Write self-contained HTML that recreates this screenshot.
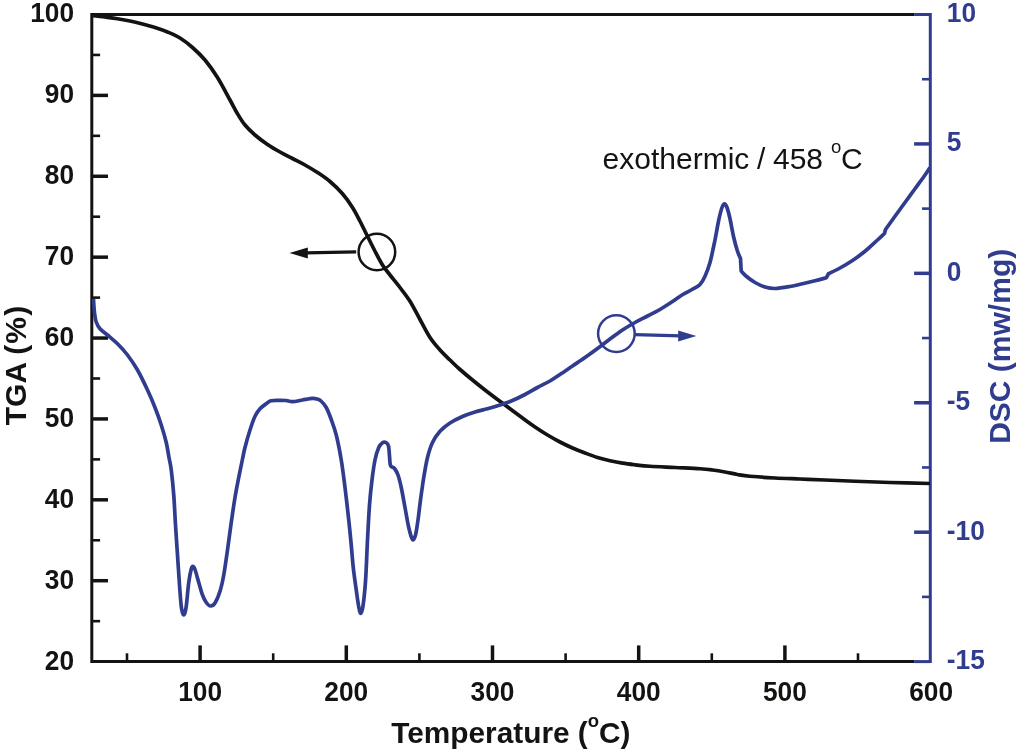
<!DOCTYPE html>
<html lang="en">
<head>
<meta charset="utf-8">
<title>TGA / DSC curves</title>
<style>
html,body{margin:0;padding:0;background:#fff;}
body{width:1020px;height:752px;overflow:hidden;font-family:"Liberation Sans",Arial,sans-serif;}
svg{display:block;filter:blur(0.45px);}
</style>
</head>
<body>
<svg width="1020" height="752" viewBox="0 0 1020 752">
<rect x="0" y="0" width="1020" height="752" fill="#ffffff"/>
<g stroke="#141311" stroke-width="3.0" fill="none" stroke-linecap="butt">
<path d="M91.8,13.0 V663.1"/>
<path d="M91.8,14.5 H914.0999999999999"/>
<path d="M91.8,661.6 H914.0999999999999"/>
</g>
<g stroke="#141311" stroke-width="3.1" fill="none">
<path d="M91.8,621.16 h8.3" stroke-width="2.6"/>
<path d="M91.8,580.71 h16.2" stroke-width="3.5"/>
<path d="M91.8,540.27 h8.3" stroke-width="2.6"/>
<path d="M91.8,499.82 h16.2" stroke-width="3.5"/>
<path d="M91.8,459.38 h8.3" stroke-width="2.6"/>
<path d="M91.8,418.94 h16.2" stroke-width="3.5"/>
<path d="M91.8,378.49 h8.3" stroke-width="2.6"/>
<path d="M91.8,338.05 h16.2" stroke-width="3.5"/>
<path d="M91.8,297.61 h8.3" stroke-width="2.6"/>
<path d="M91.8,257.16 h16.2" stroke-width="3.5"/>
<path d="M91.8,216.72 h8.3" stroke-width="2.6"/>
<path d="M91.8,176.28 h16.2" stroke-width="3.5"/>
<path d="M91.8,135.83 h8.3" stroke-width="2.6"/>
<path d="M91.8,95.39 h16.2" stroke-width="3.5"/>
<path d="M91.8,54.94 h8.3" stroke-width="2.6"/>
<path d="M127.00,661.6 v-8.3" stroke-width="2.6"/>
<path d="M200.10,661.6 v-16.2" stroke-width="3.5"/>
<path d="M273.20,661.6 v-8.3" stroke-width="2.6"/>
<path d="M346.30,661.6 v-16.2" stroke-width="3.5"/>
<path d="M419.40,661.6 v-8.3" stroke-width="2.6"/>
<path d="M492.50,661.6 v-16.2" stroke-width="3.5"/>
<path d="M565.60,661.6 v-8.3" stroke-width="2.6"/>
<path d="M638.70,661.6 v-16.2" stroke-width="3.5"/>
<path d="M711.80,661.6 v-8.3" stroke-width="2.6"/>
<path d="M784.90,661.6 v-16.2" stroke-width="3.5"/>
<path d="M858.00,661.6 v-8.3" stroke-width="2.6"/>
</g>
<g stroke="#303c8e" stroke-width="3.0" fill="none">
<path d="M930.3,13.0 V663.1"/>
</g>
<g stroke="#303c8e" stroke-width="3.1" fill="none">
<path d="M930.3,14.50 h-16.2" stroke-width="3.0"/>
<path d="M930.3,79.21 h-8.3" stroke-width="2.6"/>
<path d="M930.3,143.92 h-16.2" stroke-width="3.5"/>
<path d="M930.3,208.63 h-8.3" stroke-width="2.6"/>
<path d="M930.3,273.34 h-16.2" stroke-width="3.5"/>
<path d="M930.3,338.05 h-8.3" stroke-width="2.6"/>
<path d="M930.3,402.76 h-16.2" stroke-width="3.5"/>
<path d="M930.3,467.47 h-8.3" stroke-width="2.6"/>
<path d="M930.3,532.18 h-16.2" stroke-width="3.5"/>
<path d="M930.3,596.89 h-8.3" stroke-width="2.6"/>
<path d="M930.3,661.60 h-16.2" stroke-width="3.0"/>
</g>
<path d="M92.00,15.30 C94.17,15.58 100.75,16.43 105.00,17.00 C109.25,17.57 113.33,18.08 117.50,18.75 C121.67,19.42 125.83,20.12 130.00,21.00 C134.17,21.88 138.33,22.92 142.50,24.00 C146.67,25.08 150.83,26.17 155.00,27.50 C159.17,28.83 163.33,30.25 167.50,32.00 C171.67,33.75 175.83,35.42 180.00,38.00 C184.17,40.58 188.33,43.83 192.50,47.50 C196.67,51.17 200.83,55.00 205.00,60.00 C209.17,65.00 213.33,70.83 217.50,77.50 C221.67,84.17 226.67,93.96 230.00,100.00 C233.33,106.04 235.00,109.58 237.50,113.75 C240.00,117.92 242.08,121.46 245.00,125.00 C247.92,128.54 251.25,131.75 255.00,135.00 C258.75,138.25 263.33,141.67 267.50,144.50 C271.67,147.33 275.83,149.67 280.00,152.00 C284.17,154.33 288.33,156.33 292.50,158.50 C296.67,160.67 300.83,162.67 305.00,165.00 C309.17,167.33 313.33,169.75 317.50,172.50 C321.67,175.25 325.83,177.96 330.00,181.50 C334.17,185.04 338.75,189.42 342.50,193.75 C346.25,198.08 349.58,202.92 352.50,207.50 C355.42,212.08 357.50,216.46 360.00,221.25 C362.50,226.04 365.00,231.25 367.50,236.25 C370.00,241.25 372.50,246.46 375.00,251.25 C377.50,256.04 380.00,261.04 382.50,265.00 C385.00,268.96 387.08,271.25 390.00,275.00 C392.92,278.75 396.67,283.12 400.00,287.50 C403.33,291.88 406.67,295.92 410.00,301.25 C413.33,306.58 416.67,313.46 420.00,319.50 C423.33,325.54 426.67,332.42 430.00,337.50 C433.33,342.58 436.67,346.25 440.00,350.00 C443.33,353.75 446.67,356.75 450.00,360.00 C453.33,363.25 456.25,366.17 460.00,369.50 C463.75,372.83 468.33,376.58 472.50,380.00 C476.67,383.42 480.83,386.75 485.00,390.00 C489.17,393.25 493.33,396.38 497.50,399.50 C501.67,402.62 505.83,405.67 510.00,408.75 C514.17,411.83 518.33,414.96 522.50,418.00 C526.67,421.04 530.83,424.17 535.00,427.00 C539.17,429.83 543.33,432.50 547.50,435.00 C551.67,437.50 555.83,439.83 560.00,442.00 C564.17,444.17 568.33,446.17 572.50,448.00 C576.67,449.83 580.83,451.42 585.00,453.00 C589.17,454.58 593.33,456.21 597.50,457.50 C601.67,458.79 605.83,459.80 610.00,460.75 C614.17,461.70 618.33,462.52 622.50,463.20 C626.67,463.88 630.42,464.29 635.00,464.80 C639.58,465.31 643.33,465.80 650.00,466.25 C656.67,466.70 666.67,467.08 675.00,467.50 C683.33,467.92 693.75,468.33 700.00,468.75 C706.25,469.17 708.33,469.46 712.50,470.00 C716.67,470.54 720.83,471.25 725.00,472.00 C729.17,472.75 733.33,473.79 737.50,474.50 C741.67,475.21 743.75,475.67 750.00,476.25 C756.25,476.83 766.67,477.54 775.00,478.00 C783.33,478.46 791.67,478.67 800.00,479.00 C808.33,479.33 815.83,479.62 825.00,480.00 C834.17,480.38 844.17,480.83 855.00,481.25 C865.83,481.67 877.50,482.12 890.00,482.50 C902.50,482.88 923.33,483.33 930.00,483.50" fill="none" stroke="#141311" stroke-width="3.7" stroke-linejoin="round" stroke-linecap="butt"/>
<path d="M93.50,299.00 C93.57,300.17 93.72,303.58 93.90,306.00 C94.08,308.42 94.22,310.83 94.60,313.50 C94.98,316.17 95.30,319.46 96.20,322.00 C97.10,324.54 98.12,326.58 100.00,328.75 C101.88,330.92 104.58,332.50 107.50,335.00 C110.42,337.50 114.17,340.42 117.50,343.75 C120.83,347.08 124.17,350.62 127.50,355.00 C130.83,359.38 134.17,364.17 137.50,370.00 C140.83,375.83 144.58,383.75 147.50,390.00 C150.42,396.25 152.71,401.67 155.00,407.50 C157.29,413.33 159.38,419.17 161.25,425.00 C163.12,430.83 164.96,437.08 166.25,442.50 C167.54,447.92 168.17,452.92 169.00,457.50 C169.83,462.08 170.46,463.75 171.25,470.00 C172.04,476.25 173.04,485.83 173.75,495.00 C174.46,504.17 174.88,515.00 175.50,525.00 C176.12,535.00 176.83,545.00 177.50,555.00 C178.17,565.00 178.90,576.67 179.50,585.00 C180.10,593.33 180.63,600.50 181.10,605.00 C181.57,609.50 181.86,610.33 182.30,612.00 C182.74,613.67 183.27,615.00 183.75,615.00 C184.23,615.00 184.76,613.67 185.20,612.00 C185.64,610.33 185.81,609.92 186.40,605.00 C186.99,600.08 187.94,588.50 188.75,582.50 C189.56,576.50 190.54,571.71 191.25,569.00 C191.96,566.29 192.38,566.17 193.00,566.25 C193.62,566.33 194.04,566.79 195.00,569.50 C195.96,572.21 197.50,578.25 198.75,582.50 C200.00,586.75 201.25,591.67 202.50,595.00 C203.75,598.33 204.92,600.67 206.25,602.50 C207.58,604.33 209.04,605.92 210.50,606.00 C211.96,606.08 213.42,605.46 215.00,603.00 C216.58,600.54 218.54,595.92 220.00,591.25 C221.46,586.58 222.50,581.88 223.75,575.00 C225.00,568.12 226.25,558.75 227.50,550.00 C228.75,541.25 230.00,531.25 231.25,522.50 C232.50,513.75 233.75,505.00 235.00,497.50 C236.25,490.00 237.50,483.92 238.75,477.50 C240.00,471.08 241.46,464.00 242.50,459.00 C243.54,454.00 243.75,452.33 245.00,447.50 C246.25,442.67 248.33,435.21 250.00,430.00 C251.67,424.79 253.33,419.79 255.00,416.25 C256.67,412.71 258.12,410.83 260.00,408.75 C261.88,406.67 264.42,405.09 266.25,403.75 C268.08,402.41 268.88,401.27 271.00,400.70 C273.12,400.12 276.50,400.33 279.00,400.30 C281.50,400.27 283.75,400.27 286.00,400.50 C288.25,400.73 289.75,401.78 292.50,401.70 C295.25,401.62 299.17,400.55 302.50,400.00 C305.83,399.45 310.08,398.57 312.50,398.40 C314.92,398.23 315.54,398.52 317.00,399.00 C318.46,399.48 319.71,399.83 321.25,401.25 C322.79,402.67 324.58,404.46 326.25,407.50 C327.92,410.54 329.58,414.92 331.25,419.50 C332.92,424.08 334.58,428.25 336.25,435.00 C337.92,441.75 339.79,451.25 341.25,460.00 C342.71,468.75 343.75,477.50 345.00,487.50 C346.25,497.50 347.71,510.42 348.75,520.00 C349.79,529.58 350.50,537.08 351.25,545.00 C352.00,552.92 352.42,560.00 353.25,567.50 C354.08,575.00 355.36,583.58 356.25,590.00 C357.14,596.42 357.85,602.08 358.60,606.00 C359.35,609.92 360.02,613.50 360.75,613.50 C361.48,613.50 362.19,611.58 363.00,606.00 C363.81,600.42 364.85,591.00 365.60,580.00 C366.35,569.00 366.85,552.50 367.50,540.00 C368.15,527.50 368.75,515.00 369.50,505.00 C370.25,495.00 371.08,487.50 372.00,480.00 C372.92,472.50 373.88,465.42 375.00,460.00 C376.12,454.58 377.50,450.38 378.75,447.50 C380.00,444.62 381.29,443.53 382.50,442.70 C383.71,441.87 385.00,441.95 386.00,442.50 C387.00,443.05 387.92,443.75 388.50,446.00 C389.08,448.25 389.17,452.75 389.50,456.00 C389.83,459.25 389.67,463.42 390.50,465.50 C391.33,467.58 393.25,466.92 394.50,468.50 C395.75,470.08 396.88,471.83 398.00,475.00 C399.12,478.17 400.08,482.08 401.25,487.50 C402.42,492.92 403.75,500.83 405.00,507.50 C406.25,514.17 407.50,522.17 408.75,527.50 C410.00,532.83 411.38,538.25 412.50,539.50 C413.62,540.75 414.58,538.25 415.50,535.00 C416.42,531.75 417.17,525.83 418.00,520.00 C418.83,514.17 419.54,507.08 420.50,500.00 C421.46,492.92 422.58,484.58 423.75,477.50 C424.92,470.42 426.04,463.33 427.50,457.50 C428.96,451.67 430.42,446.88 432.50,442.50 C434.58,438.12 437.08,434.50 440.00,431.25 C442.92,428.00 446.25,425.46 450.00,423.00 C453.75,420.54 458.33,418.33 462.50,416.50 C466.67,414.67 470.83,413.29 475.00,412.00 C479.17,410.71 483.33,409.92 487.50,408.75 C491.67,407.58 495.83,406.38 500.00,405.00 C504.17,403.62 508.33,402.25 512.50,400.50 C516.67,398.75 520.83,396.67 525.00,394.50 C529.17,392.33 533.33,389.75 537.50,387.50 C541.67,385.25 546.25,383.17 550.00,381.00 C553.75,378.83 556.25,377.00 560.00,374.50 C563.75,372.00 568.33,368.83 572.50,366.00 C576.67,363.17 580.83,360.42 585.00,357.50 C589.17,354.58 593.33,351.58 597.50,348.50 C601.67,345.42 605.83,342.08 610.00,339.00 C614.17,335.92 618.33,332.75 622.50,330.00 C626.67,327.25 630.83,324.83 635.00,322.50 C639.17,320.17 643.33,318.17 647.50,316.00 C651.67,313.83 655.83,311.92 660.00,309.50 C664.17,307.08 668.83,303.92 672.50,301.50 C676.17,299.08 678.75,297.00 682.00,295.00 C685.25,293.00 689.00,291.25 692.00,289.50 C695.00,287.75 697.83,286.71 700.00,284.50 C702.17,282.29 703.33,279.92 705.00,276.25 C706.67,272.58 708.33,268.54 710.00,262.50 C711.67,256.46 713.54,247.08 715.00,240.00 C716.46,232.92 717.58,225.42 718.75,220.00 C719.92,214.58 721.04,210.21 722.00,207.50 C722.96,204.79 723.67,203.75 724.50,203.75 C725.33,203.75 726.08,205.00 727.00,207.50 C727.92,210.00 728.88,213.75 730.00,218.75 C731.12,223.75 732.50,232.08 733.75,237.50 C735.00,242.92 736.38,247.75 737.50,251.25 C738.62,254.75 740.00,257.29 740.50,258.50 L741.20,271.00  C742.04,271.88 743.95,274.33 746.25,276.25 C748.55,278.17 751.88,280.71 755.00,282.50 C758.12,284.29 761.67,286.00 765.00,287.00 C768.33,288.00 770.83,288.58 775.00,288.50 C779.17,288.42 785.42,287.29 790.00,286.50 C794.58,285.71 798.33,284.71 802.50,283.75 C806.67,282.79 811.04,281.74 815.00,280.75 C818.96,279.76 824.38,278.29 826.25,277.80 L828.50,273.75  C830.42,272.79 836.00,270.21 840.00,268.00 C844.00,265.79 848.33,263.29 852.50,260.50 C856.67,257.71 860.83,254.67 865.00,251.25 C869.17,247.83 874.25,242.96 877.50,240.00 C880.75,237.04 883.33,234.58 884.50,233.50 L885.50,229.50  C887.08,227.29 891.75,220.75 895.00,216.25 C898.25,211.75 901.67,207.08 905.00,202.50 C908.33,197.92 911.67,193.33 915.00,188.75 C918.33,184.17 922.50,178.54 925.00,175.00 C927.50,171.46 929.17,168.75 930.00,167.50" fill="none" stroke="#303c8e" stroke-width="3.7" stroke-linejoin="round" stroke-linecap="butt"/>
<circle cx="376.9" cy="252" r="18.3" fill="none" stroke="#141311" stroke-width="2.5"/>
<path d="M356.2,251.8 L306,252.8" stroke="#141311" stroke-width="3.3" fill="none"/>
<path d="M289.5,253 L307.8,247.4 L307.8,258.4 Z" fill="#141311"/>
<circle cx="616.4" cy="333.6" r="18.3" fill="none" stroke="#303c8e" stroke-width="2.5"/>
<path d="M634.9,334.7 L681,335.9" stroke="#303c8e" stroke-width="3.3" fill="none"/>
<path d="M696.3,336 L678.2,330.5 L678.2,341.4 Z" fill="#303c8e"/>
<text transform="translate(74.10,669.50) scale(1.0,1.06)" text-anchor="end" font-family="'Liberation Sans', Arial, sans-serif" font-weight="bold" font-size="26.3" fill="#141311">20</text>
<text transform="translate(74.10,588.61) scale(1.0,1.06)" text-anchor="end" font-family="'Liberation Sans', Arial, sans-serif" font-weight="bold" font-size="26.3" fill="#141311">30</text>
<text transform="translate(74.10,507.72) scale(1.0,1.06)" text-anchor="end" font-family="'Liberation Sans', Arial, sans-serif" font-weight="bold" font-size="26.3" fill="#141311">40</text>
<text transform="translate(74.10,426.84) scale(1.0,1.06)" text-anchor="end" font-family="'Liberation Sans', Arial, sans-serif" font-weight="bold" font-size="26.3" fill="#141311">50</text>
<text transform="translate(74.10,345.95) scale(1.0,1.06)" text-anchor="end" font-family="'Liberation Sans', Arial, sans-serif" font-weight="bold" font-size="26.3" fill="#141311">60</text>
<text transform="translate(74.10,265.06) scale(1.0,1.06)" text-anchor="end" font-family="'Liberation Sans', Arial, sans-serif" font-weight="bold" font-size="26.3" fill="#141311">70</text>
<text transform="translate(74.10,184.18) scale(1.0,1.06)" text-anchor="end" font-family="'Liberation Sans', Arial, sans-serif" font-weight="bold" font-size="26.3" fill="#141311">80</text>
<text transform="translate(74.10,103.29) scale(1.0,1.06)" text-anchor="end" font-family="'Liberation Sans', Arial, sans-serif" font-weight="bold" font-size="26.3" fill="#141311">90</text>
<text transform="translate(74.10,21.70) scale(1.0,1.06)" text-anchor="end" font-family="'Liberation Sans', Arial, sans-serif" font-weight="bold" font-size="26.3" fill="#141311">100</text>
<text transform="translate(200.10,701.30) scale(1.0,1.06)" text-anchor="middle" font-family="'Liberation Sans', Arial, sans-serif" font-weight="bold" font-size="26.3" fill="#141311">100</text>
<text transform="translate(346.30,701.30) scale(1.0,1.06)" text-anchor="middle" font-family="'Liberation Sans', Arial, sans-serif" font-weight="bold" font-size="26.3" fill="#141311">200</text>
<text transform="translate(492.50,701.30) scale(1.0,1.06)" text-anchor="middle" font-family="'Liberation Sans', Arial, sans-serif" font-weight="bold" font-size="26.3" fill="#141311">300</text>
<text transform="translate(638.70,701.30) scale(1.0,1.06)" text-anchor="middle" font-family="'Liberation Sans', Arial, sans-serif" font-weight="bold" font-size="26.3" fill="#141311">400</text>
<text transform="translate(784.90,701.30) scale(1.0,1.06)" text-anchor="middle" font-family="'Liberation Sans', Arial, sans-serif" font-weight="bold" font-size="26.3" fill="#141311">500</text>
<text transform="translate(931.10,701.30) scale(1.0,1.06)" text-anchor="middle" font-family="'Liberation Sans', Arial, sans-serif" font-weight="bold" font-size="26.3" fill="#141311">600</text>
<text transform="translate(946.80,22.00) scale(1.0,1.06)" text-anchor="start" font-family="'Liberation Sans', Arial, sans-serif" font-weight="bold" font-size="26.3" fill="#303c8e">10</text>
<text transform="translate(946.80,151.42) scale(1.0,1.06)" text-anchor="start" font-family="'Liberation Sans', Arial, sans-serif" font-weight="bold" font-size="26.3" fill="#303c8e">5</text>
<text transform="translate(946.80,280.84) scale(1.0,1.06)" text-anchor="start" font-family="'Liberation Sans', Arial, sans-serif" font-weight="bold" font-size="26.3" fill="#303c8e">0</text>
<text transform="translate(946.80,410.26) scale(1.0,1.06)" text-anchor="start" font-family="'Liberation Sans', Arial, sans-serif" font-weight="bold" font-size="26.3" fill="#303c8e">-5</text>
<text transform="translate(946.80,539.68) scale(1.0,1.06)" text-anchor="start" font-family="'Liberation Sans', Arial, sans-serif" font-weight="bold" font-size="26.3" fill="#303c8e">-10</text>
<text transform="translate(946.80,669.10) scale(1.0,1.06)" text-anchor="start" font-family="'Liberation Sans', Arial, sans-serif" font-weight="bold" font-size="26.3" fill="#303c8e">-15</text>
<text transform="translate(26.00,365.00) rotate(-90)" text-anchor="middle" font-family="'Liberation Sans', Arial, sans-serif" font-weight="bold" font-size="30" fill="#141311">TGA <tspan letter-spacing="1.1">(%)</tspan></text>
<text transform="translate(1009.60,346.30) rotate(-90)" text-anchor="middle" font-family="'Liberation Sans', Arial, sans-serif" font-weight="bold" font-size="30" fill="#303c8e">DSC (mw/mg)</text>
<text transform="translate(510.90,743.30)" text-anchor="middle" font-family="'Liberation Sans', Arial, sans-serif" font-weight="bold" font-size="29.8" fill="#141311">Temperature (<tspan font-size="18.5" dy="-16.5">o</tspan><tspan dy="16.5">C)</tspan></text>
<text y="169.2" font-family="'Liberation Sans', Arial, sans-serif" font-size="30" fill="#141311"><tspan x="602.6">exothermic</tspan> <tspan x="757">/</tspan> <tspan x="773">458</tspan> <tspan x="831" font-size="18.5" dy="-16.5">o</tspan><tspan x="841" dy="16.5">C</tspan></text>
</svg>
</body>
</html>
